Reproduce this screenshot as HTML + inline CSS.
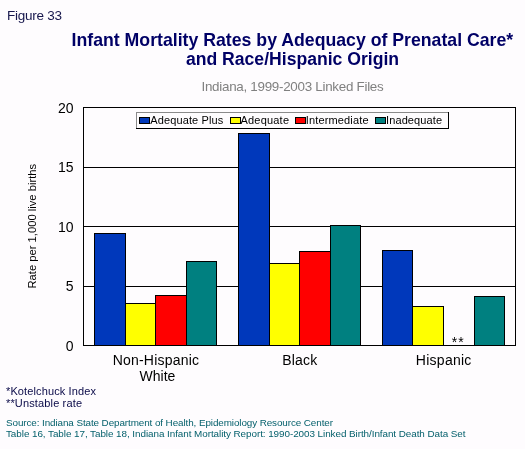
<!DOCTYPE html>
<html><head><meta charset="utf-8"><style>
html,body{margin:0;padding:0;background:#fefcfe;width:525px;height:449px;overflow:hidden}
svg{display:block;will-change:transform}
text{font-family:"Liberation Sans",sans-serif}
</style></head><body>
<svg width="525" height="449" viewBox="0 0 525 449">
<rect x="0" y="0" width="525" height="449" fill="#fefcfe"/>
<!-- header -->
<text x="7" y="19.8" font-size="13.5" fill="#16164c" textLength="54.9" lengthAdjust="spacing">Figure 33</text>
<text x="292.4" y="45.6" font-size="17.7" font-weight="bold" fill="#000066" text-anchor="middle">Infant Mortality Rates by Adequacy of Prenatal Care*</text>
<text x="292.5" y="64.6" font-size="17.6" font-weight="bold" fill="#000066" text-anchor="middle">and Race/Hispanic Origin</text>
<text x="292.6" y="90.7" font-size="13.4" fill="#808080" text-anchor="middle" textLength="182.2" lengthAdjust="spacing">Indiana, 1999-2003 Linked Files</text>

<!-- plot gridlines -->
<g stroke="#000" stroke-width="1" shape-rendering="crispEdges">
<line x1="83" y1="167.5" x2="515" y2="167.5"/>
<line x1="83" y1="226.5" x2="515" y2="226.5"/>
<line x1="83" y1="286.5" x2="515" y2="286.5"/>
</g>

<!-- bars -->
<g stroke="#000" stroke-width="1" shape-rendering="crispEdges">
<rect x="94.5" y="233.5" width="31" height="111.5" fill="#0038bb"/>
<rect x="125.5" y="303.5" width="30" height="41.5" fill="#ffff00"/>
<rect x="155.5" y="295.5" width="31" height="49.5" fill="#ff0000"/>
<rect x="186.5" y="261.5" width="30" height="83.5" fill="#008080"/>

<rect x="238.5" y="133.5" width="31" height="211.5" fill="#0038bb"/>
<rect x="269.5" y="263.5" width="30" height="81.5" fill="#ffff00"/>
<rect x="299.5" y="251.5" width="31" height="93.5" fill="#ff0000"/>
<rect x="330.5" y="225.5" width="30" height="119.5" fill="#008080"/>

<rect x="382.5" y="250.5" width="30" height="94.5" fill="#0038bb"/>
<rect x="412.5" y="306.5" width="31" height="38.5" fill="#ffff00"/>
<rect x="474.5" y="296.5" width="30" height="48.5" fill="#008080"/>
</g>

<!-- plot border -->
<rect x="83.5" y="107.5" width="432" height="238" fill="none" stroke="#000" stroke-width="1" shape-rendering="crispEdges"/>

<!-- legend -->
<rect x="136" y="112" width="313" height="17" fill="#fefcfe"/>
<g stroke-width="1" shape-rendering="crispEdges">
<line x1="136" y1="112.5" x2="449" y2="112.5" stroke="#8a8a8a"/>
<line x1="136.5" y1="112" x2="136.5" y2="129" stroke="#8a8a8a"/>
<line x1="136" y1="128.5" x2="449" y2="128.5" stroke="#000"/>
<line x1="448.5" y1="112" x2="448.5" y2="129" stroke="#000"/>
</g>
<g stroke="#000" stroke-width="1" shape-rendering="crispEdges">
<rect x="139.5" y="117.5" width="10" height="6" fill="#0038bb"/>
<rect x="230.5" y="117.5" width="10" height="6" fill="#ffff00"/>
<rect x="295.5" y="117.5" width="10" height="6" fill="#ff0000"/>
<rect x="375.5" y="117.5" width="10" height="6" fill="#008080"/>
</g>
<g font-size="11" fill="#000">
<text x="150.3" y="123.8" textLength="73" lengthAdjust="spacing">Adequate Plus</text>
<text x="240.5" y="123.8" textLength="48.5" lengthAdjust="spacing">Adequate</text>
<text x="305.7" y="123.8" textLength="62.8" lengthAdjust="spacing">Intermediate</text>
<text x="386" y="123.8" textLength="56.1" lengthAdjust="spacing">Inadequate</text>
</g>

<!-- y axis labels -->
<g font-size="14" fill="#000" text-anchor="end">
<text x="73.5" y="113">20</text>
<text x="73.5" y="172">15</text>
<text x="73.5" y="231.5">10</text>
<text x="73.5" y="291">5</text>
<text x="73.5" y="350.5">0</text>
</g>
<text transform="translate(36.3,226.2) rotate(-90)" font-size="11.22" fill="#000" text-anchor="middle">Rate per 1,000 live births</text>

<!-- category labels -->
<g font-size="14" fill="#000" text-anchor="middle">
<text x="155.8" y="365" textLength="86.3" lengthAdjust="spacing">Non-Hispanic</text>
<text x="157.5" y="381" >White</text>
<text x="299.7" y="365" textLength="35" lengthAdjust="spacing">Black</text>
<text x="443.6" y="365" textLength="55.5" lengthAdjust="spacing">Hispanic</text>
</g>
<text x="457.7" y="346.8" font-size="14" fill="#000" text-anchor="middle" textLength="12" lengthAdjust="spacing">**</text>

<!-- footnotes -->
<g font-size="11" fill="#0a0a48">
<text x="6" y="395" textLength="90" lengthAdjust="spacing">*Kotelchuck Index</text>
<text x="6" y="406.6" textLength="76" lengthAdjust="spacing">**Unstable rate</text>
</g>
<g font-size="9.9" fill="#05606c">
<text x="6" y="426" textLength="327" lengthAdjust="spacing">Source: Indiana State Department of Health, Epidemiology Resource Center</text>
<text x="6" y="437" textLength="459.5" lengthAdjust="spacing">Table 16, Table 17, Table 18, Indiana Infant Mortality Report: 1990-2003 Linked Birth/Infant Death Data Set</text>
</g>
</svg>
</body></html>
